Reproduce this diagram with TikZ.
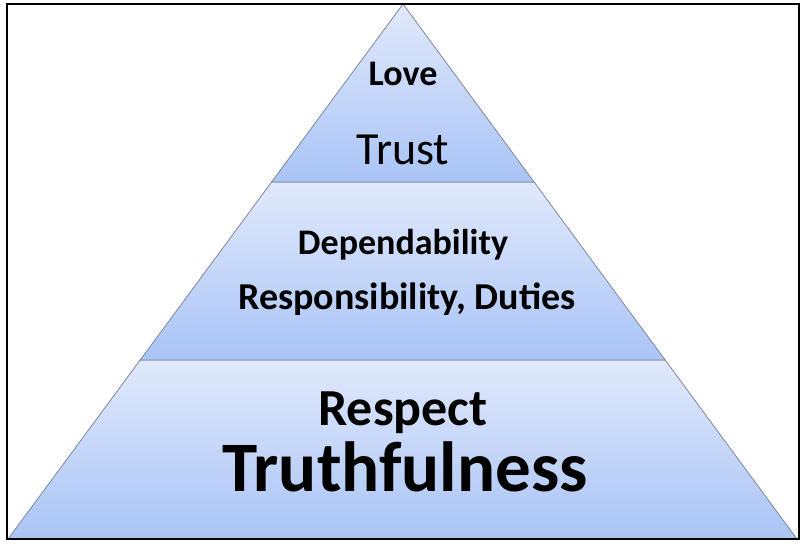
\documentclass[tikz,border=0pt]{standalone}
\usepackage{fontspec}
\setmainfont{Carlito}
\usetikzlibrary{calc}

\definecolor{bandtop}{HTML}{E1E9FB}
\definecolor{bandbot}{HTML}{A9C4F6}
\definecolor{edgegray}{HTML}{7E8798}

\tikzstyle{band} = [top color=bandtop, bottom color=bandbot, draw=edgegray, line width=0.8bp]
\tikzstyle{word} = [anchor=base, inner sep=0pt, text=black]

\begin{document}
\begin{tikzpicture}[x=1bp, y=-1bp]
	\useasboundingbox (0,0) rectangle (811,548);
	% corners of the pyramid
	\coordinate (apex) at (403,4);
	\coordinate (bl) at (8,539);
	\coordinate (br) at (797,539);
	\coordinate (ml) at ($(apex)!0.6654!(bl)$);
	\coordinate (mr) at ($(apex)!0.6654!(br)$);
	\coordinate (tl) at ($(apex)!0.3327!(bl)$);
	\coordinate (tr) at ($(apex)!0.3327!(br)$);
	% bands
	\shade[band] (ml) -- (mr) -- (br) -- (bl) -- cycle;
	\shade[band] (tl) -- (tr) -- (mr) -- (ml) -- cycle;
	\shade[band] (apex) -- (tr) -- (tl) -- cycle;
	% frame
	\draw[line width=1.5bp] (7,4) rectangle (799,539);
	% words
	\node[word, font=\fontsize{36bp}{40bp}\selectfont\bfseries] (love) at (403,86) {Love};
	\node[word, font=\fontsize{46bp}{50bp}\selectfont] (trust) at (403,165) {Trust};
	\node[word, font=\fontsize{36bp}{40bp}\selectfont\bfseries] (depend) at (403,255) {Dependability};
	\node[word, font=\fontsize{38bp}{42bp}\selectfont\bfseries] (duties) at (407,310) {Responsibility, Duties};
	\node[word, font=\fontsize{52bp}{56bp}\selectfont\bfseries] (respect) at (403,425) {Respect};
	\node[word, font=\fontsize{71bp}{76bp}\selectfont\bfseries] (truth) at (405,491) {Truthfulness};
\end{tikzpicture}
\end{document}
